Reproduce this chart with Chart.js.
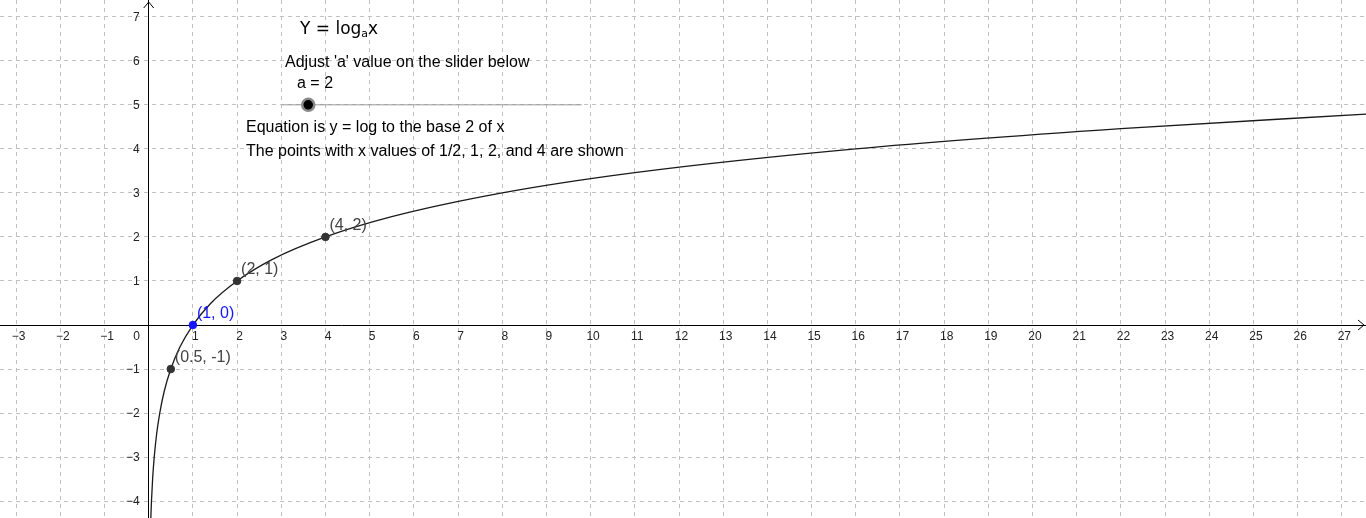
<!DOCTYPE html>
<html>
<head>
<meta charset="utf-8">
<script src="https://cdn.jsdelivr.net/npm/chart.js@4.4.1/dist/chart.umd.min.js"></script>
<style>
  html, body { margin: 0; padding: 0; background: #fff; }
  #wrap { width: 1366px; height: 518px; position: relative; }
</style>
</head>
<body>
<div id="wrap"><canvas id="graph"></canvas></div>
<script>
// y = log_2(x)
const curveX = [0.048, 0.0625, 0.09, 0.125, 0.18, 0.25, 0.35, 0.5, 0.7, 1, 1.4, 2, 2.8, 4, 5.5, 8, 11, 16, 22, 27.6];
const curveY = [-4.38, -4, -3.47, -3, -2.47, -2, -1.51, -1, -0.51, 0, 0.49, 1, 1.49, 2, 2.46, 3, 3.46, 4, 4.46, 4.79];

// marked points
const pointX = [0.5, 1, 2, 4];
const pointY = [-1, 0, 1, 2];
const pointLabels = ["(0.5, -1)", "(1, 0)", "(2, 1)", "(4, 2)"];
const pointColors = ["#333333", "#1515ff", "#333333", "#333333"];

// slider for a
const sliderX = [3.02, 9.8];
const sliderY = [5, 5];
const knobX = [3.61];
const knobY = [5];

// axis ticks
const xTicks = [-3, -2, -1, 1, 2, 3, 4, 5, 6, 7, 8, 9, 10, 11, 12, 13, 14, 15, 16, 17, 18, 19, 20, 21, 22, 23, 24, 25, 26, 27];
const yTicks = [-4, -3, -2, -1, 1, 2, 3, 4, 5, 6, 7];

function fmt(v) {
    return v < 0 ? "\u2212" + Math.abs(v) : String(v);
}

const overlay = {
    id: "overlay",
    afterDatasetsDraw(chart) {
        const ctx = chart.ctx;
        const xs = chart.scales.x, ys = chart.scales.y;
        const ox = xs.getPixelForValue(0), oy = ys.getPixelForValue(0);
        const area = chart.chartArea;
        ctx.save();

        // arrow heads on the axes
        ctx.strokeStyle = "#000";
        ctx.lineWidth = 1;
        ctx.beginPath();
        ctx.moveTo(area.right - 8, oy - 5);
        ctx.lineTo(area.right - 2, oy);
        ctx.lineTo(area.right - 8, oy + 5);
        ctx.moveTo(ox - 5, area.top + 8);
        ctx.lineTo(ox, area.top + 2);
        ctx.lineTo(ox + 5, area.top + 8);
        ctx.stroke();

        // tick labels
        ctx.font = "12px 'Liberation Sans', Arial, sans-serif";
        ctx.fillStyle = "#222";
        ctx.textBaseline = "middle";
        ctx.textAlign = "center";
        xTicks.forEach(v => ctx.fillText(fmt(v), xs.getPixelForValue(v) + 2.5, oy + 12));
        ctx.textAlign = "right";
        yTicks.forEach(v => ctx.fillText(fmt(v), ox - 9, ys.getPixelForValue(v) + 1));
        ctx.textAlign = "center";
        ctx.fillText("0", ox - 12, oy + 12);

        // point labels
        ctx.font = "16px 'Liberation Sans', Arial, sans-serif";
        ctx.textAlign = "left";
        pointX.forEach((v, i) => {
            ctx.fillStyle = i === 1 ? "#1515ff" : "#444";
            ctx.fillText(pointLabels[i], xs.getPixelForValue(v) + 4, ys.getPixelForValue(pointY[i]) - 11);
        });

        // texts
        ctx.fillStyle = "#000";
        ctx.font = "17px 'DejaVu Sans', sans-serif";
        ctx.fillText("Y = log", 300, 30);
        let w = ctx.measureText("Y = log").width;
        ctx.font = "11px 'DejaVu Sans', sans-serif";
        ctx.fillText("a", 300 + w, 34);
        let w2 = ctx.measureText("a").width;
        ctx.font = "17px 'DejaVu Sans', sans-serif";
        ctx.fillText("x", 300 + w + w2, 30);

        ctx.font = "16px 'Liberation Sans', Arial, sans-serif";
        ctx.fillText("Adjust 'a' value on the slider below", 285, 63);
        ctx.fillText("a = 2", 297, 84);
        ctx.fillText("Equation is y = log to the base 2 of x", 246, 128);
        ctx.fillText("The points with x values of 1/2, 1, 2, and 4 are shown", 246, 152);
        ctx.restore();
    }
};

const gridOpts = { color: "#c0c0c0", lineWidth: 1, drawTicks: false };
const borderOpts = { display: true, color: "#000", width: 1, dash: [4, 4] };

new Chart(document.getElementById("graph"), {
    type: "scatter",
    data: {
        datasets: [
            {
                data: knobX.map((x, i) => ({ x: x, y: knobY[i] })),
                pointRadius: 6,
                pointBackgroundColor: "#000",
                pointBorderColor: "#8a8a8a",
                pointBorderWidth: 2.5
            },
            {
                data: pointX.map((x, i) => ({ x: x, y: pointY[i] })),
                pointRadius: 3.8,
                pointBackgroundColor: pointColors,
                pointBorderColor: pointColors,
                pointBorderWidth: 1
            },
            {
                data: sliderX.map((x, i) => ({ x: x, y: sliderY[i] })),
                showLine: true,
                borderColor: "#9a9a9a",
                borderWidth: 1,
                pointRadius: 0
            },
            {
                data: curveX.map((x, i) => ({ x: x, y: curveY[i] })),
                showLine: true,
                borderColor: "#1a1a1a",
                borderWidth: 1.3,
                cubicInterpolationMode: "monotone",
                pointRadius: 0
            }
        ]
    },
    options: {
        responsive: true,
        maintainAspectRatio: false,
        animation: false,
        layout: { padding: 0, autoPadding: false },
        plugins: {
            legend: { display: false },
            tooltip: { enabled: false }
        },
        scales: {
            x: {
                type: "linear",
                min: -3.365,
                max: 27.546,
                position: { y: 0 },
                grid: gridOpts,
                border: borderOpts,
                ticks: { display: false, stepSize: 1, includeBounds: false, autoSkip: false }
            },
            y: {
                type: "linear",
                min: -4.382,
                max: 7.38,
                position: { x: 0 },
                grid: gridOpts,
                border: borderOpts,
                ticks: { display: false, stepSize: 1, includeBounds: false, autoSkip: false }
            }
        }
    },
    plugins: [overlay]
});
</script>
</body>
</html>
